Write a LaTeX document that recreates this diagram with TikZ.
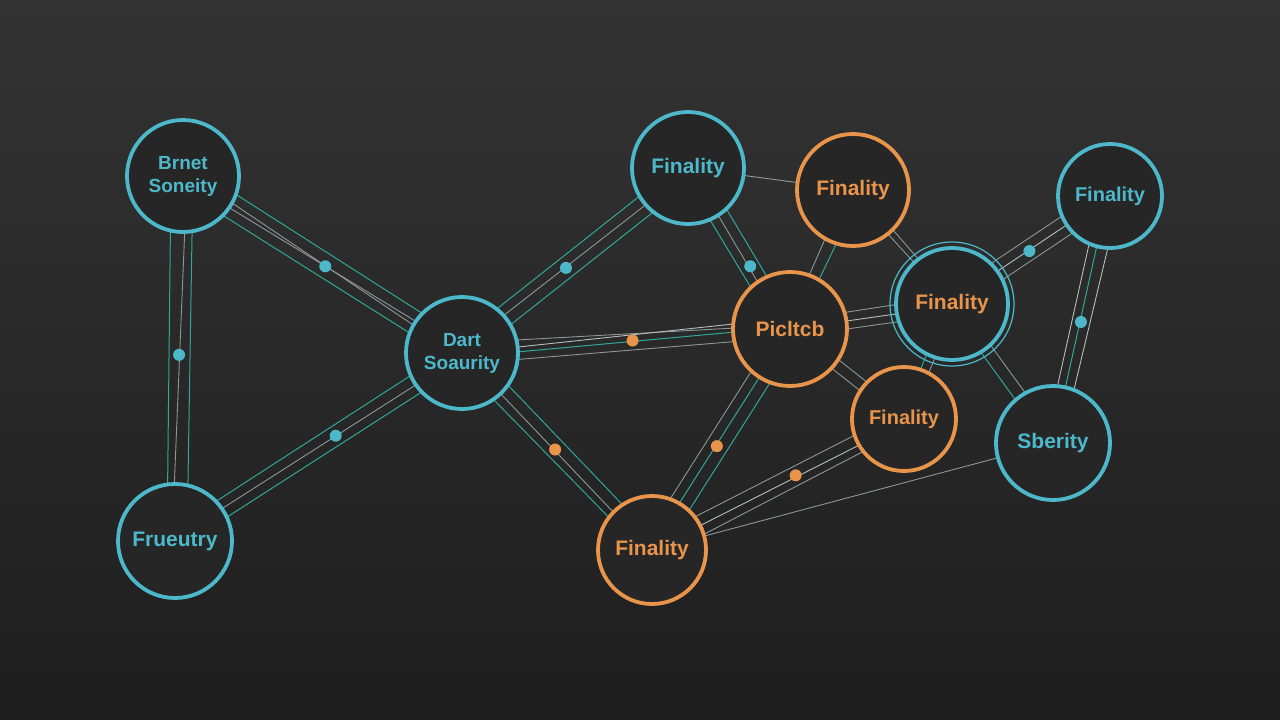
\documentclass[tikz,border=0pt]{standalone}
\usepackage{fontspec}
\setmainfont{Liberation Sans}
\usetikzlibrary{calc}
\definecolor{bgA}{HTML}{333333}
\definecolor{bgB}{HTML}{1E1E1E}
\definecolor{tealc}{HTML}{4CB8CA}
\definecolor{orangec}{HTML}{E8954B}
\definecolor{linet}{HTML}{2FA79A}
\definecolor{lineg}{HTML}{8C9797}
\definecolor{linew}{HTML}{B5BDBD}
\definecolor{nodefill}{HTML}{262626}
\pgfdeclarelayer{back}
\pgfdeclarelayer{bg}
\pgfsetlayers{back,bg,main}
\newcommand{\edgeln}[5]{\draw[#1] ($(#2.center)!#4!90:(#3.center)$) -- ($(#3.center)!#5!-90:(#2.center)$);}
\tikzset{
  hub/.style={circle, draw=tealc, line width=3.8pt, fill=nodefill, minimum size=112pt,
    inner sep=0pt, align=center, font=\bfseries\fontsize{21}{23}\selectfont, text=tealc},
  two/.style={font=\bfseries\fontsize{19}{23}\selectfont},
  ohub/.style={hub, draw=orangec, text=orangec},
  tl/.style={draw=linet, line width=1pt},
  gl/.style={draw=lineg, line width=0.9pt},
  wl/.style={draw=linew, line width=0.9pt},
  tdot/.style={fill=tealc},
  odot/.style={fill=orangec},
}
\begin{document}
\begin{tikzpicture}[x=1pt,y=-1pt]
\useasboundingbox (0,0) rectangle (1280,720);
\begin{pgfonlayer}{back}
\shade[top color=bgA, bottom color=bgB] (0,0) rectangle (1280,720);
\end{pgfonlayer}

% nodes
\node[hub, two] (A) at (183,176) {Brnet\\Soneity};
\node[hub] (B) at (688,168) {Finality};
\node[ohub] (C) at (853,190) {Finality};
\node[hub, minimum size=104pt, font=\bfseries\fontsize{20}{22}\selectfont] (D) at (1110,196) {Finality};
\node[hub, two] (E) at (462,353) {Dart\\Soaurity};
\node[ohub, minimum size=114pt] (F) at (790,329) {Picltcb};
\node[hub, text=orangec] (G) at (952,304) {Finality};
\draw[tealc, line width=1.2pt] (G.center) circle (62);
\node[ohub, minimum size=104pt, font=\bfseries\fontsize{20}{22}\selectfont] (H) at (904,419) {Finality};
\node[hub, minimum size=114pt] (I) at (1053,443) {Sberity};
\node[hub, minimum size=114pt] (J) at (175,541) {Frueutry};
\node[ohub, minimum size=108pt] (K) at (652,550) {Finality};

\begin{pgfonlayer}{bg}
% A-E
\edgeln{tl}{A}{E}{13pt}{12pt}
\edgeln{gl}{A}{E}{5pt}{-4pt}
\edgeln{gl}{A}{E}{-3pt}{3pt}
\edgeln{tl}{A}{E}{-12pt}{-11pt}
% A-J
\edgeln{tl}{A}{J}{10pt}{12pt}
\edgeln{gl}{A}{J}{4pt}{-3pt}
\edgeln{tl}{A}{J}{-12pt}{-8pt}
% J-E
\edgeln{tl}{J}{E}{11pt}{9pt}
\edgeln{gl}{J}{E}{2pt}{-2pt}
\edgeln{tl}{J}{E}{-8pt}{-11pt}
% E-B
\edgeln{tl}{E}{B}{13pt}{8pt}
\edgeln{gl}{E}{B}{4pt}{-3pt}
\edgeln{tl}{E}{B}{-8pt}{-13pt}
% E-F
\edgeln{gl}{E}{F}{10pt}{4pt}
\edgeln{wl}{E}{F}{0pt}{11pt}
\edgeln{gl}{E}{F}{-11pt}{-8pt}
\edgeln{tl}{E}{F}{-4pt}{2pt}
% E-K
\edgeln{tl}{E}{K}{11pt}{10pt}
\edgeln{gl}{E}{K}{0pt}{-2pt}
\edgeln{tl}{E}{K}{-10pt}{-8pt}
% B-C
\edgeln{gl}{B}{C}{0pt}{0pt}
% B-F
\edgeln{tl}{B}{F}{12pt}{7pt}
\edgeln{gl}{B}{F}{2pt}{-4pt}
\edgeln{tl}{B}{F}{-8pt}{-12pt}
% C-F
\edgeln{tl}{C}{F}{8pt}{5pt}
\edgeln{gl}{C}{F}{-6pt}{-4pt}
% C-G
\edgeln{gl}{C}{G}{4pt}{4pt}
\edgeln{gl}{C}{G}{-4pt}{0pt}
% F-G
\edgeln{gl}{F}{G}{8pt}{8pt}
\edgeln{wl}{F}{G}{0pt}{-2pt}
\edgeln{gl}{F}{G}{-8pt}{-10pt}
% F-K
\edgeln{tl}{F}{K}{12pt}{10pt}
\edgeln{tl}{F}{K}{0pt}{-2pt}
\edgeln{gl}{F}{K}{-10pt}{-12pt}
% K-H
\edgeln{gl}{K}{H}{10pt}{8pt}
\edgeln{wl}{K}{H}{0pt}{-3pt}
\edgeln{gl}{K}{H}{-10pt}{-10pt}
% K-I
\edgeln{gl}{K}{I}{0pt}{0pt}
% G-D
\edgeln{gl}{G}{D}{12pt}{10pt}
\edgeln{wl}{G}{D}{2pt}{0pt}
\edgeln{gl}{G}{D}{-8pt}{-10pt}
% D-I
\edgeln{wl}{D}{I}{10pt}{8pt}
\edgeln{tl}{D}{I}{-2pt}{0pt}
\edgeln{wl}{D}{I}{-10pt}{-8pt}
% G-I
\edgeln{gl}{G}{I}{7pt}{7pt}
\edgeln{tl}{G}{I}{-5pt}{-5pt}
% G-H
\edgeln{gl}{G}{H}{5pt}{5pt}
\edgeln{tl}{G}{H}{-5pt}{-3pt}
% F-H
\edgeln{gl}{F}{H}{6pt}{6pt}
\edgeln{gl}{F}{H}{-5pt}{-5pt}

% dots
\fill[tdot] ($(A)!0.51!(E)$) circle (6);
\fill[tdot] ($(A)!0.49!(J)$) circle (6);
\fill[tdot] ($(J)!0.56!(E)$) circle (6);
\fill[tdot] ($(E)!0.46!(B)$) circle (6);
\fill[odot] ($(E)!0.52!(F)$) circle (6);
\fill[odot] ($(E)!0.49!(K)$) circle (6);
\fill[tdot] ($(B)!0.61!(F)$) circle (6);
\fill[odot] ($(F)!0.53!(K)$) circle (6);
\fill[odot] ($(K)!0.57!(H)$) circle (6);
\fill[tdot] ($(G)!0.49!(D)$) circle (6);
\fill[tdot] ($(D)!0.51!(I)$) circle (6);
\end{pgfonlayer}
\end{tikzpicture}
\end{document}
